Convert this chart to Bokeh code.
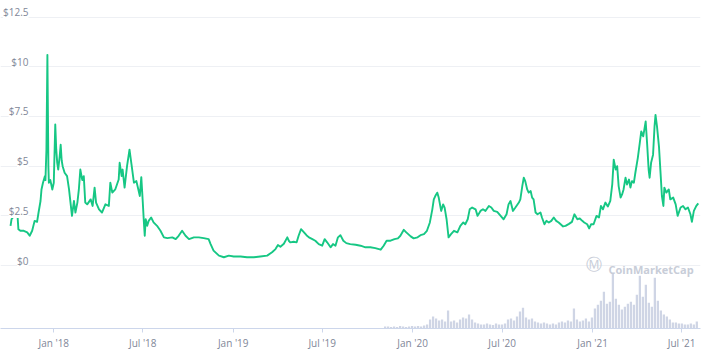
import pandas as pd
from bokeh.plotting import figure
from bokeh.models import Range1d, FixedTicker, Label, Grid, ColumnDataSource
from bokeh.embed import file_html
from bokeh.resources import INLINE

# ---------------- data ----------------
base_date = "2018-01-01"          # price_day counts days from this date
price_day = [-88, -86, -81, -78, -74, -72, -68, -61, -54, -49, -44, -39, -34, -31, -27, -25, -22, -18, -17, -15,
             -13, -11, -10, -7, -3, 0, 3, 5, 7, 9, 12, 14, 16, 18, 22, 27, 31, 34, 37, 41,
             44, 48, 51, 54, 58, 61, 64, 68, 75, 79, 83, 86, 92, 98, 105, 112, 115, 119, 125, 132,
             134, 138, 140, 144, 149, 154, 158, 163, 168, 172, 175, 178, 181, 183, 185, 187, 190, 193, 198, 203,
             210, 217, 224, 231, 241, 248, 254, 261, 268, 275, 285, 295, 305, 315, 319, 325, 336, 346, 356, 366,
             380, 393, 407, 420, 434, 444, 451, 456, 461, 468, 475, 478, 481, 488, 494, 498, 503, 509, 514, 519,
             526, 532, 539, 546, 551, 556, 563, 568, 573, 578, 583, 589, 595, 603, 614, 624, 634, 644, 654, 665,
             671, 677, 685, 693, 700, 705, 712, 717, 726, 732, 740, 746, 753, 759, 765, 770, 773, 776, 780, 783,
             788, 792, 795, 799, 803, 808, 814, 821, 827, 833, 837, 842, 846, 851, 858, 862, 868, 873, 878, 885,
             890, 895, 902, 909, 915, 921, 925, 929, 934, 939, 946, 949, 953, 956, 959, 963, 966, 970, 973, 976,
             980, 984, 990, 993, 998, 1002, 1007, 1012, 1017, 1022, 1027, 1031, 1036, 1041, 1048, 1054, 1059, 1065, 1070, 1075,
             1079, 1085, 1089, 1093, 1098, 1104, 1109, 1113, 1117, 1122, 1127, 1132, 1136, 1139, 1143, 1146, 1149, 1153, 1156, 1159,
             1163, 1166, 1170, 1173, 1176, 1180, 1183, 1188, 1192, 1195, 1199, 1204, 1207, 1210, 1212, 1215, 1219, 1222, 1224, 1227,
             1231, 1234, 1237, 1240, 1242, 1246, 1251, 1254, 1260, 1265, 1269, 1275, 1280, 1285, 1290, 1295, 1298, 1302, 1307, 1311]
price_usd = [2.0, 2.33, 2.5, 2.67, 2.6, 1.83, 1.75, 1.75, 1.67, 1.5, 1.75, 2.25, 2.2, 2.67, 3.25, 3.83, 4.17, 4.5, 4.3, 5.8,
             10.6, 5.0, 4.17, 4.3, 3.83, 4.17, 7.1, 5.83, 5.17, 4.83, 5.5, 6.08, 5.3, 5.0, 4.67, 4.5, 3.83, 3.17, 2.5, 3.25,
             2.67, 3.17, 3.83, 4.83, 4.3, 4.5, 3.17, 3.08, 3.33, 3.0, 3.92, 3.17, 2.83, 2.67, 3.08, 3.0, 4.17, 3.67, 3.83, 4.33,
             5.17, 4.5, 4.83, 3.92, 5.0, 5.83, 5.1, 4.17, 4.25, 3.83, 3.5, 4.45, 3.2, 2.3, 1.5, 2.33, 2.0, 2.25, 2.42, 2.17,
             2.0, 1.75, 1.42, 1.38, 1.42, 1.33, 1.5, 1.75, 1.5, 1.33, 1.42, 1.42, 1.38, 1.33, 1.08, 0.75, 0.5, 0.42, 0.5, 0.46,
             0.46, 0.42, 0.42, 0.46, 0.5, 0.67, 0.83, 1.03, 0.95, 1.1, 1.42, 1.25, 1.17, 1.2, 1.17, 1.5, 1.83, 1.67, 1.53, 1.42,
             1.33, 1.25, 1.08, 1.0, 1.33, 1.17, 0.92, 1.08, 1.0, 1.42, 1.53, 1.25, 1.13, 1.08, 1.05, 1.0, 0.92, 0.92, 0.88, 0.8,
             1.0, 1.25, 1.25, 1.33, 1.37, 1.5, 1.8, 1.67, 1.47, 1.37, 1.42, 1.53, 1.58, 1.75, 2.17, 2.83, 3.33, 3.5, 3.67, 3.42,
             2.75, 3.08, 2.92, 2.33, 1.42, 1.58, 1.75, 1.67, 2.0, 2.17, 2.08, 2.33, 2.83, 2.92, 2.83, 2.5, 2.75, 2.83, 2.75, 3.0,
             2.92, 2.75, 2.7, 2.5, 2.33, 2.58, 3.08, 3.25, 2.75, 2.92, 3.17, 3.33, 4.0, 4.42, 4.25, 3.83, 3.67, 3.75, 3.42, 3.33,
             2.67, 2.58, 2.67, 2.42, 2.08, 2.25, 2.17, 2.25, 2.42, 2.25, 2.17, 2.08, 1.97, 2.0, 2.1, 2.2, 2.58, 2.33, 2.37, 2.25,
             2.17, 2.08, 1.87, 2.08, 2.08, 2.5, 2.42, 3.0, 2.83, 3.17, 2.97, 3.25, 4.08, 5.33, 4.83, 5.0, 4.0, 3.42, 3.58, 3.83,
             4.42, 4.08, 4.33, 3.92, 4.25, 4.17, 4.67, 5.42, 6.17, 6.75, 6.5, 7.25, 6.1, 4.83, 4.42, 5.17, 5.58, 7.0, 7.58, 7.0,
             6.0, 4.75, 3.5, 3.0, 3.92, 3.67, 3.83, 3.33, 3.42, 3.08, 2.5, 2.92, 3.0, 2.83, 2.92, 2.58, 2.2, 2.75, 3.0, 3.13]

# relative trading volume (bar heights), evenly spaced from volume_first to volume_last
volume_first = "2019-11-06"
volume_last = "2021-08-01"
volume_rel = [2, 2, 1.5, 2, 1.5, 2.5, 2, 1.5, 2, 2.5,
              2, 2.5, 2, 3, 4, 9, 12, 10, 8, 9,
              7, 18, 7, 8, 6, 9, 11, 10, 14, 9,
              6, 5, 4, 4, 5, 4, 3.5, 5, 4, 4,
              5, 9, 10, 8, 12, 17, 21, 11, 9, 10,
              7, 6, 5, 6, 5, 4, 5, 4, 6, 7,
              6, 8, 7, 20, 9, 7, 8, 10, 7, 11,
              20, 24, 28, 37, 25, 27, 56, 30, 24, 19,
              22, 25, 27, 24, 34, 53, 32, 44, 26, 22,
              51, 28, 18, 14, 12, 9, 6, 6, 5, 5,
              4, 4, 5, 4, 7]

y_ticks = [0, 2.5, 5, 7.5, 10, 12.5]
y_tick_labels = ["$0", "$2.5", "$5", "$7.5", "$10", "$12.5"]
x_tick_dates = ["2018-01-01", "2018-07-01", "2019-01-01", "2019-07-01",
                "2020-01-01", "2020-07-01", "2021-01-01", "2021-07-01"]
x_tick_labels = ["Jan '18", "Jul '18", "Jan '19", "Jul '19",
                 "Jan '20", "Jul '20", "Jan '21", "Jul '21"]

assert len(price_day) == len(price_usd)

# ---------------- derived ----------------
DAY_MS = 86400000.0
base_ms = pd.Timestamp(base_date).value / 1e6
price_x = [base_ms + d * DAY_MS for d in price_day]
vol_x = [t.value / 1e6 for t in pd.date_range(volume_first, volume_last, periods=len(volume_rel))]
x_tick_ms = [pd.Timestamp(d).value / 1e6 for d in x_tick_dates]

GREEN = "#16c784"
TEXT = "#7f8798"
AXIS = "#ccd6eb"
GRID = "#eef0f4"
FONT = "Open Sans"

p = figure(width=703, height=352, output_backend="svg", toolbar_location=None,
           x_range=Range1d(base_ms - 108.4 * DAY_MS, base_ms + 1315.5 * DAY_MS),
           y_range=Range1d(-3.165, 13.335),
           y_axis_location=None,
           min_border_left=0, min_border_right=3, min_border_top=0, min_border_bottom=22)
p.outline_line_color = None
p.background_fill_color = "white"
p.border_fill_color = "white"

# drop the default grids (including the one tied to the hidden y axis)
p.center = [r for r in p.center if not isinstance(r, Grid)]
p.add_layout(Grid(dimension=1, ticker=FixedTicker(ticks=y_ticks),
                  grid_line_color=GRID, grid_line_width=1))

# x axis
xa = p.xaxis[0]
xa.ticker = FixedTicker(ticks=x_tick_ms)
xa.major_label_overrides = {t: l for t, l in zip(x_tick_ms, x_tick_labels)}
xa.axis_line_color = AXIS
xa.major_tick_line_color = AXIS
xa.major_tick_out = 4
xa.major_tick_in = 0
xa.minor_tick_line_color = None
xa.major_label_standoff = 3
xa.major_label_text_font = FONT
xa.major_label_text_font_size = "10px"
xa.major_label_text_color = TEXT

# volume
p.extra_y_ranges = {"vol": Range1d(0, 330)}
p.vbar(x=vol_x, top=volume_rel, bottom=0, width=4.6 * DAY_MS, y_range_name="vol",
       fill_color="#cfd5e5", line_color=None)

# watermark
p.add_layout(Label(x=585, y=64, x_units="screen", y_units="screen", text="\u24c2",
                   text_font="DejaVu Sans", text_font_size="16px", text_color="#c8cdd8",
                   text_baseline="middle"))
p.add_layout(Label(x=608, y=59, x_units="screen", y_units="screen", text="CoinMarketCap",
                   text_font=FONT, text_font_style="bold", text_font_size="11px",
                   text_color="#c8cdd8", text_baseline="alphabetic"))

# price line
src = ColumnDataSource(dict(x=price_x, y=price_usd))
p.line("x", "y", source=src, line_color=GREEN, line_width=1.9, line_join="round")

# y tick labels, sitting just above their gridlines
for v, lab in zip(y_ticks, y_tick_labels):
    p.add_layout(Label(x=28, y=v, x_units="screen", y_units="data", text=lab,
                       text_align="right", text_baseline="middle", y_offset=5,
                       background_fill_color="white",
                       text_font=FONT, text_font_size="10px", text_color=TEXT))

open("out.html", "w").write(file_html(p, INLINE))
